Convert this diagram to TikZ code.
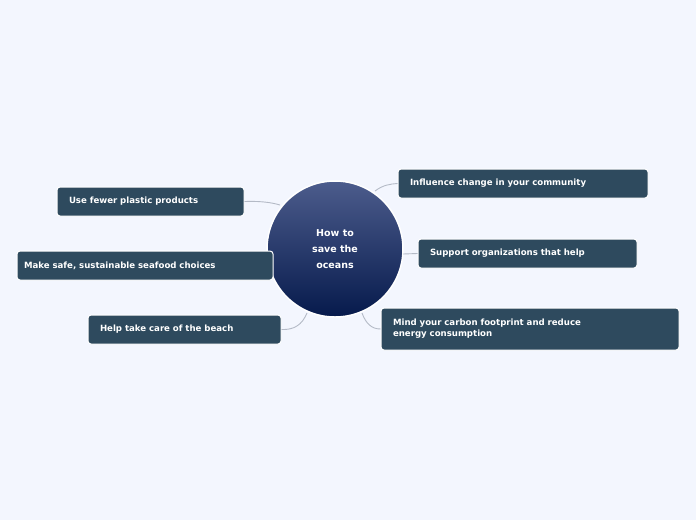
\documentclass[tikz,border=0pt]{standalone}
\usepackage{fontspec}
\setmainfont{DejaVu Sans}
\usetikzlibrary{shadings}
\definecolor{bgcol}{HTML}{F3F6FE}
\definecolor{boxcol}{HTML}{2E4A5E}
\definecolor{linkcol}{HTML}{B4BAC6}
\definecolor{topcol}{HTML}{4C5C8C}
\definecolor{botcol}{HTML}{061A4C}
\tikzset{every picture/.style={line width=0.75pt}}
\tikzset{
  topic/.style={draw=white,line width=1pt,fill=boxcol,rounded corners=3pt,text=white,font=\bfseries\fontsize{8.6}{11}\selectfont,inner xsep=0pt,inner ysep=0pt,align=left},
  link/.style={draw=linkcol,line width=0.9pt}
}
\begin{document}
\begin{tikzpicture}[x=1pt,y=1pt,yscale=-1]
\useasboundingbox[fill=bgcol] (0,0) rectangle (696,520);

% main topic
\shade[top color=topcol,bottom color=botcol,draw=white,line width=1.5pt] (335,249) circle (68);
\node (root) [text=white,font=\bfseries\fontsize{9.5}{16}\selectfont,align=center] at (335,249) {How to\\save the\\ oceans};

% subtopics
\node (inf) [topic,minimum width=250,minimum height=29,text width=226] at (523,183.5) {Influence change in your community};
\node (sup) [topic,minimum width=219,minimum height=29,text width=195] at (527.5,253.5) {Support organizations that help};
\node (mind) [topic,minimum width=298,minimum height=42,text width=274] at (530,329) {Mind your carbon footprint and reduce\\energy consumption};
\node (use) [topic,minimum width=187,minimum height=29,text width=163] at (150.5,201.5) {Use fewer plastic products};
\node (make) [topic,minimum width=256,minimum height=29,text width=242] at (145,265.5) {Make safe, sustainable seafood choices};
\node (help) [topic,minimum width=193,minimum height=29,text width=169] at (184.5,329.5) {Help take care of the beach};

% connectors
\draw[link] (375,191) .. controls (383,185) and (390,184) .. (inf.west);
\draw[link] (403,254) -- (sup.west);
\draw[link] (362,313) .. controls (366,324) and (372,329) .. (mind.west);
\draw[link] (280,205) .. controls (270,202) and (258,201) .. (use.east);
\draw[link] (307,313) .. controls (302,325) and (294,330) .. (help.east);
\end{tikzpicture}
\end{document}
